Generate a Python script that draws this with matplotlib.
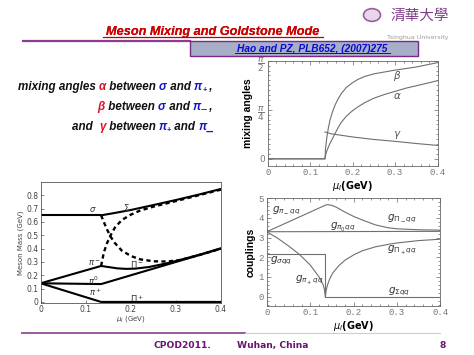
import matplotlib
matplotlib.use('Agg')
import matplotlib.pyplot as plt
from matplotlib.lines import Line2D
from matplotlib.patches import Rectangle, Circle
import numpy as np

W, H = 474, 355
fig = plt.figure(figsize=(4.74, 3.55), dpi=100)
fig.patch.set_facecolor('white')

def fx(px): return px / W
def fy(py): return 1 - py / H
def axes_px(l, t, r, b):
    return fig.add_axes([fx(l), fy(b), (r - l) / W, (b - t) / H])

# ---------------- data ----------------
# mixing angles (radians)
mix_x = [0, 0.135, 0.136, 0.139, 0.143, 0.147, 0.153, 0.159, 0.166, 0.174, 0.185, 0.198, 0.212, 0.229, 0.25, 0.275, 0.3, 0.325, 0.35, 0.375, 0.4]
mix_beta = [0, 0, 0.15, 0.33, 0.50, 0.625, 0.76, 0.866, 0.96, 1.05, 1.14, 1.21, 1.27, 1.32, 1.36, 1.39, 1.42, 1.445, 1.47, 1.505, 1.54]
mix_alpha = [0, 0, 0.05, 0.12, 0.19, 0.25, 0.33, 0.41, 0.50, 0.59, 0.68, 0.76, 0.83, 0.90, 0.97, 1.03, 1.08, 1.13, 1.17, 1.21, 1.25]
gam_x = [0.135, 0.15, 0.2, 0.25, 0.3, 0.35, 0.4]
mix_gamma = [0.43, 0.40, 0.35, 0.31, 0.28, 0.245, 0.215]

# meson masses (GeV)
sig_x = [0, 0.134]
m_sigma = [0.65, 0.65]
Sig_x = [0.134, 0.16, 0.2, 0.25, 0.3, 0.35, 0.4]
m_Sigma = [0.65, 0.665, 0.69, 0.727, 0.765, 0.805, 0.848]
dup_x = [0.134, 0.14, 0.147, 0.155, 0.165, 0.18, 0.2, 0.22, 0.25, 0.28, 0.31, 0.35, 0.4]
m_dash_up = [0.65, 0.60, 0.545, 0.49, 0.44, 0.385, 0.345, 0.32, 0.305, 0.303, 0.315, 0.35, 0.40]
dlo_x = [0.134, 0.14, 0.147, 0.155, 0.165, 0.18, 0.2, 0.22, 0.25, 0.3, 0.35, 0.4]
m_dash_lo = [0.27, 0.37, 0.44, 0.50, 0.56, 0.615, 0.655, 0.685, 0.715, 0.757, 0.80, 0.843]
pim_x = [0, 0.134]
m_pim = [0.14, 0.27]
Pim_x = [0.134, 0.15, 0.17, 0.19, 0.21, 0.24, 0.28, 0.32, 0.36, 0.4]
m_Pim = [0.27, 0.262, 0.252, 0.248, 0.25, 0.262, 0.29, 0.325, 0.362, 0.403]
pi0_x = [0, 0.134, 0.4]
m_pi0 = [0.14, 0.134, 0.4]
pip_x = [0, 0.134, 0.4]
m_pip = [0.14, 0.0, 0.0]

# couplings
gpm_x = [0, 0.05, 0.1, 0.125, 0.135, 0.14, 0.15, 0.16, 0.18, 0.2, 0.22, 0.25, 0.28, 0.3, 0.35, 0.4]
g_pim = [3.3, 3.8, 4.3, 4.55, 4.65, 4.68, 4.64, 4.55, 4.3, 4.08, 3.9, 3.65, 3.5, 3.45, 3.4, 3.38]
gp0_x = [0, 0.4]
g_pi0 = [3.3, 3.32]
gppl_x = [0, 0.025, 0.05, 0.075, 0.1, 0.12, 0.13, 0.133, 0.135]
g_pip_l = [3.3, 2.97, 2.58, 2.15, 1.61, 1.02, 0.6, 0.35, 0.0]
gppr_x = [0.135, 0.137, 0.14, 0.145, 0.152, 0.165, 0.18, 0.2, 0.22, 0.25, 0.28, 0.3, 0.35, 0.4]
g_pip_r = [0.0, 0.35, 0.6, 0.9, 1.2, 1.55, 1.85, 2.12, 2.33, 2.53, 2.66, 2.73, 2.85, 2.92]
gs_x = [0, 0.135, 0.135, 0.4]
g_sigma = [2.15, 2.15, 0.0, 0.0]

xt = [0, 0.1, 0.2, 0.3, 0.4]
xt_lab = ['0', '0.1', '0.2', '0.3', '0.4']

LC = '#6f6f6f'

def math_style(ax):
    for s in ax.spines.values():
        s.set_color('#666666'); s.set_linewidth(0.6)
    ax.tick_params(which='both', direction='in', top=True, right=True,
                   colors='#666666', labelcolor='#777777', labelsize=6.5, width=0.5, pad=2)
    ax.tick_params(which='major', length=3)
    ax.tick_params(which='minor', length=1.5)

# ---------------- mixing angles ----------------
ax1 = axes_px(267.7, 60.7, 437.5, 165.7)
ax1.plot(mix_x, mix_beta, color=LC, lw=0.8)
ax1.plot(mix_x, mix_alpha, color=LC, lw=0.8)
ax1.plot(gam_x, mix_gamma, color=LC, lw=0.8)
ax1.set_xlim(0, 0.4); ax1.set_ylim(-0.11, np.pi / 2)
ax1.set_xticks(xt); ax1.set_xticklabels(xt_lab, family='Liberation Mono')
ax1.set_xticks(np.arange(0, 0.401, 0.02), minor=True)
ax1.set_yticks([0, np.pi / 4, np.pi / 2])
ax1.set_yticks(np.arange(0, np.pi / 2, np.pi / 40), minor=True)
math_style(ax1)
ax1.set_yticklabels(['0', r'$\dfrac{\pi}{4}$', r'$\dfrac{\pi}{2}$'], fontsize=6.5)
for s, xx, yy in [(r'$\beta$', 0.295, 1.33), (r'$\alpha$', 0.295, 1.0), (r'$\gamma$', 0.295, 0.385)]:
    ax1.text(xx, yy, s, color='#555555', fontsize=7.5, ha='left', va='center')
ax1.set_ylabel('mixing angles', fontsize=7.5, fontweight='bold', family='Liberation Sans', labelpad=3)
ax1.set_xlabel(r'$\mu_I$(GeV)', fontsize=7, labelpad=1)
ax1.xaxis.label.set_fontweight('bold')

# ---------------- meson masses ----------------
ax2 = axes_px(40.7, 182, 221, 303)
kw = dict(color='black', lw=1.5, solid_capstyle='butt')
ax2.plot(sig_x, m_sigma, **kw)
ax2.plot(Sig_x, m_Sigma, **kw)
ax2.plot(pim_x, m_pim, **kw)
ax2.plot(Pim_x, m_Pim, **kw)
ax2.plot(pi0_x, m_pi0, **kw)
ax2.plot(pip_x, m_pip, **kw)
ax2.plot(dup_x, m_dash_up, color='black', lw=1.7, dashes=(1.8, 1.4))
ax2.plot(dlo_x, m_dash_lo, color='black', lw=1.7, dashes=(1.8, 1.4))
ax2.set_xlim(0, 0.4); ax2.set_ylim(-0.008, 0.9)
ax2.set_xticks(xt); ax2.set_xticklabels(xt_lab)
ax2.set_yticks(np.arange(0, 0.81, 0.1))
ax2.set_yticklabels(['0', '0.1', '0.2', '0.3', '0.4', '0.5', '0.6', '0.7', '0.8'])
for s in ax2.spines.values():
    s.set_color('#555555'); s.set_linewidth(0.6)
ax2.tick_params(direction='in', length=2, width=0.5, colors='#555555', labelcolor='#444444', labelsize=5.5, pad=1.5)
ax2.set_ylabel('Meson Mass (GeV)', fontsize=5, color='#444444', labelpad=2)
ax2.set_xlabel(r'$\mu_I$ (GeV)', fontsize=5, color='#444444', labelpad=0)
for s, xx, yy in [(r'$\sigma$', 0.108, 0.69), (r'$\Sigma$', 0.183, 0.705), (r'$\pi^-$', 0.105, 0.29),
                  (r'$\Pi^-$', 0.198, 0.28), (r'$\pi^0$', 0.105, 0.16), (r'$\pi^+$', 0.108, 0.07),
                  (r'$\Pi^+$', 0.198, 0.018)]:
    ax2.text(xx, yy, s, fontsize=6, color='#333333', ha='left', va='center')

# ---------------- couplings ----------------
ax3 = axes_px(266.8, 198.3, 440.3, 305.7)
ax3.plot(gpm_x, g_pim, color=LC, lw=0.8)
ax3.plot(gp0_x, g_pi0, color=LC, lw=0.8)
ax3.plot(gppl_x, g_pip_l, color=LC, lw=0.8)
ax3.plot(gppr_x, g_pip_r, color=LC, lw=0.8)
ax3.plot(gs_x, g_sigma, color=LC, lw=0.8)
ax3.set_xlim(0, 0.4); ax3.set_ylim(-0.46, 5)
ax3.set_xticks(xt); ax3.set_xticklabels(xt_lab, family='Liberation Mono')
ax3.set_xticks(np.arange(0, 0.401, 0.02), minor=True)
ax3.set_yticks([0, 1, 2, 3, 4, 5]); ax3.set_yticklabels(['0', '1', '2', '3', '4', '5'], family='Liberation Mono')
ax3.set_yticks(np.arange(-0.4, 5.01, 0.2), minor=True)
math_style(ax3)
ax3.set_ylabel('couplings', fontsize=7.5, fontweight='bold', family='Liberation Sans', labelpad=2)
ax3.set_xlabel(r'$\mu_I$(GeV)', fontsize=7, labelpad=1)
ax3.xaxis.label.set_fontweight('bold')
for s, xx, yy in [(r'$g_{\pi_-qq}$', 0.013, 4.35), (r'$g_{\pi_0qq}$', 0.145, 3.55), (r'$g_{\Pi_-qq}$', 0.277, 3.95),
                  (r'$g_{\Pi_+qq}$', 0.277, 2.4), (r'$g_{\sigma qq}$', 0.008, 1.8), (r'$g_{\pi_+qq}$', 0.064, 0.85),
                  (r'$g_{\Sigma qq}$', 0.28, 0.25)]:
    ax3.text(xx, yy, s, fontsize=7.5, color='#333333', ha='left', va='center')

# ---------------- slide decorations ----------------
# logo
fig.add_artist(Circle((fx(372), fy(15)), radius=8.5 / W, transform=fig.transFigure,
                      facecolor='#e8d6ea', edgecolor='#9b5fa0', lw=1.2, zorder=1))
fig.text(fx(420), fy(16), '清華大學', fontsize=10.5, color='#7f3f88', ha='center', va='center',
         family=['Noto Sans CJK TC', 'DejaVu Sans'], zorder=1)
fig.text(fx(418), fy(37), 'Tsinghua University', fontsize=4.5, color='#999999', ha='center', va='center', zorder=1)

# title
fig.text(fx(213), fy(35), 'Meson Mixing and Goldstone Mode', fontsize=9.2, color='#7a0000',
         fontweight='bold', fontstyle='italic', family='Liberation Sans', ha='center', va='baseline')
fig.text(fx(212.6), fy(34.6), 'Meson Mixing and Goldstone Mode', fontsize=9.2, color='#d40000',
         fontweight='bold', fontstyle='italic', family='Liberation Sans', ha='center', va='baseline')
fig.add_artist(Line2D([fx(103), fx(323)], [fy(37.2), fy(37.2)], color='#c00000', lw=0.9))

# purple rule under title
fig.add_artist(Line2D([fx(23), fx(190)], [fy(41), fy(41)], color='#8e3a8e', lw=1.6))
# reference box
fig.add_artist(Rectangle((fx(189.5), fy(55.5)), (418 - 189.5) / W, 14.5 / H, transform=fig.transFigure,
                         facecolor='#a7aec8', edgecolor='#7a2a84', lw=1.0, zorder=2))
fig.text(fx(312), fy(51.5), 'Hao and PZ, PLB652, (2007)275', fontsize=7.3, color='#0a0ad0',
         fontweight='bold', fontstyle='italic', family='Liberation Sans', ha='center', va='baseline', zorder=3)
fig.add_artist(Line2D([fx(235), fx(390)], [fy(53.2), fy(53.2)], color='#0a0ad0', lw=0.7, zorder=3))

# left text block with colored runs
BLACK, RED, BLUE = '#111111', '#d8102a', '#1515c8'
renderer = fig.canvas.get_renderer()

def runs(pieces, x_right, y_base, size=8.4):
    arts = []
    total = 0.0
    for (s, c, sf, dy) in pieces:
        t = fig.text(0, 0, s, color=c, fontsize=size * sf, fontweight='bold', fontstyle='italic',
                     family='Liberation Sans', ha='left', va='baseline')
        w = t.get_window_extent(renderer).width
        arts.append((t, w, dy))
        total += w
    x = x_right - total
    for t, w, dy in arts:
        t.set_position((fx(x), fy(y_base + dy)))
        x += w

runs([('mixing angles ', BLACK, 1, 0), ('α', RED, 1, 0), (' between ', BLACK, 1, 0), ('σ', BLUE, 1, 0),
      (' and ', BLACK, 1, 0), ('π', BLUE, 1, 0), ('+', BLUE, 0.6, 2), (' ,', BLACK, 1, 0)], 213, 90)
runs([('β', RED, 1, 0), (' between ', BLACK, 1, 0), ('σ', BLUE, 1, 0),
      (' and ', BLACK, 1, 0), ('π', BLUE, 1, 0), ('_', BLUE, 0.8, -1), (' ,', BLACK, 1, 0)], 213, 110)
runs([('and  ', BLACK, 1, 0), ('γ', RED, 1, 0), (' between ', BLACK, 1, 0), ('π', BLUE, 1, 0),
      ('+', BLUE, 0.6, 2), (' and ', BLACK, 1, 0), ('π', BLUE, 1, 0), ('_', BLUE, 1, 0)], 213, 130)

# bottom rules and footer
fig.add_artist(Line2D([fx(22), fx(245)], [fy(333), fy(333)], color='#9a5a9e', lw=1.4))
fig.add_artist(Line2D([fx(245), fx(440)], [fy(333), fy(333)], color='#cfcfcf', lw=0.8))
fig.text(fx(154), fy(348), 'CPOD2011.', fontsize=6.6, color='#6a1470', fontweight='bold',
         family='DejaVu Sans', ha='left', va='baseline')
fig.text(fx(237), fy(348), 'Wuhan, China', fontsize=6.6, color='#6a1470', fontweight='bold',
         family='DejaVu Sans', ha='left', va='baseline')
fig.text(fx(440), fy(348), '8', fontsize=6.6, color='#6a1470', fontweight='bold',
         family='DejaVu Sans', ha='left', va='baseline')

fig.savefig('out.png', dpi=100)
